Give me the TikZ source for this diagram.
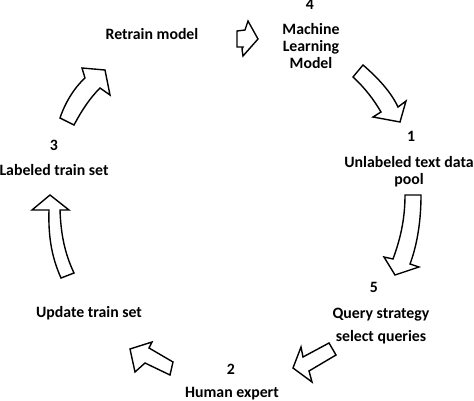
\documentclass[tikz,border=0pt]{standalone}
\usepackage{fontspec}
\setmainfont{Carlito}
\begin{document}
\begin{tikzpicture}[x=1pt,y=-1pt,
  lbl/.style={font=\fontsize{15.8}{17.3}\selectfont\bfseries,inner sep=0pt,anchor=base,align=center},
  blockarrow/.style={draw=black,fill=white,line width=1.4pt,line join=miter}]
\useasboundingbox (0,0) rectangle (474,401);
\node[lbl] (t4) at (310,9.3) {4};
\node[lbl] (tml) at (311,69) {Machine\\Learning\\Model};
\node[lbl] (tretrain) at (152,39.5) {Retrain model};
\node[lbl] (t1) at (411,141.7) {1};
\node[lbl] (tpool) at (409,185) {Unlabeled text data\\pool};
\node[lbl] (t3) at (54,151) {3};
\node[lbl] (tlabeled) at (54,175.7) {Labeled train set};
\node[lbl] (tupdate) at (89,317.7) {Update train set};
\node[lbl] (t5) at (374,292.7) {5};
\node[lbl] (tquery) at (381,318.3) {Query strategy};
\node[lbl] (tselect) at (381,341) {select queries};
\node[lbl] (t2) at (231,374) {2};
\node[lbl] (thuman) at (232,397.3) {Human expert};
\draw[blockarrow] (237,31) -- (245,30) -- (248,21) -- (258,39) -- (243,56) -- (242,49) -- (243,47) -- (237,47) -- cycle;
\draw[blockarrow] (353,77) -- (363,65) .. controls (378,78) and (391,92) .. (398,107) -- (406,101) -- (400,122) -- (373,117) -- (381,112) .. controls (374,100) and (365,88) .. (353,77) -- cycle;
\draw[blockarrow] (405,195) -- (421,195) .. controls (421,225) and (416,248) .. (410,264) -- (419,267) -- (395,275) -- (384,257) -- (393,259) .. controls (400,240) and (405,220) .. (405,195) -- cycle;
\draw[blockarrow] (329,343) -- (336,355) -- (309,371) -- (312,382) -- (293,368) -- (301,347) -- (303,357) -- cycle;
\draw[blockarrow] (152,342) -- (149,348) -- (173,362) -- (170,375) -- (145,363) -- (135,372) -- (130,349) -- cycle;
\draw[blockarrow] (50,195) -- (69,210) -- (60,210) .. controls (61,240) and (67,258) .. (74,273) -- (61,278) .. controls (53,260) and (48,240) .. (49,210) -- (32,210) -- cycle;
\draw[blockarrow] (60,118) -- (74,125) .. controls (82,110) and (90,98) .. (100,88) -- (110,95) -- (105,70) -- (82,68) -- (85,78) .. controls (74,88) and (65,103) .. (60,118) -- cycle;
\end{tikzpicture}
\end{document}
